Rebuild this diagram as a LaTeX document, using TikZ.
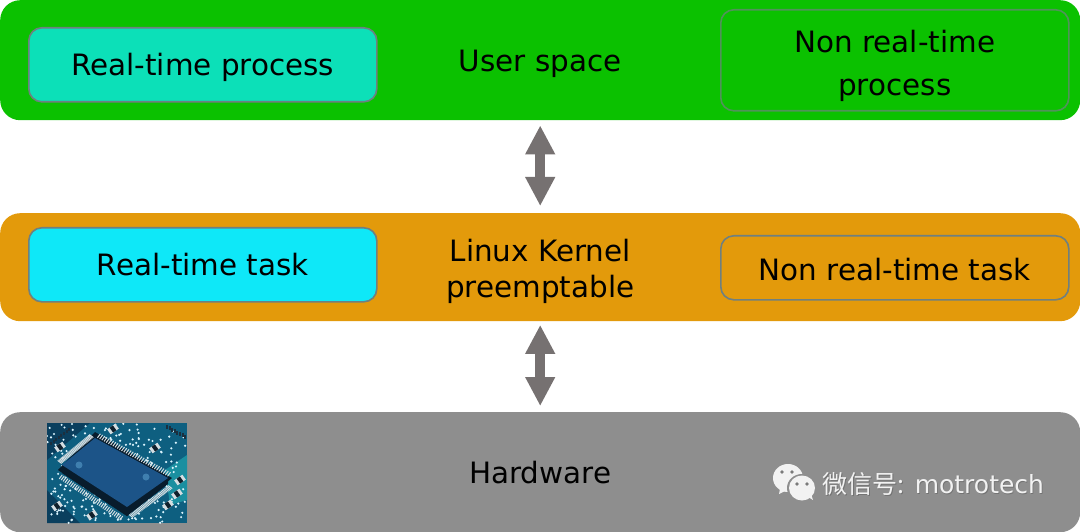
\documentclass[tikz,border=0pt]{standalone}
\usepackage{fontspec}
\setmainfont{DejaVu Sans}
\newfontfamily\cjkfont{Noto Sans CJK SC}
\usetikzlibrary{arrows.meta,calc}
\definecolor{layergreen}{HTML}{0BC100}
\definecolor{layerorange}{HTML}{E39A0B}
\definecolor{layergray}{HTML}{8E8E8E}
\definecolor{boxteal}{HTML}{0CE0B8}
\definecolor{boxcyan}{HTML}{0EE8F8}
\definecolor{boxline}{HTML}{6F8080}
\definecolor{arrowgray}{HTML}{767171}
\definecolor{pcbteal}{HTML}{0E5F80}
\definecolor{pcbdark}{HTML}{0A3F5E}
\definecolor{pcblight}{HTML}{1A8FA0}
\definecolor{chiptop}{HTML}{1C5488}
\definecolor{chipside}{HTML}{081C2C}
\definecolor{chiphole}{HTML}{3F7FAF}
\definecolor{pinc}{HTML}{D5DEE2}
\definecolor{compdark}{HTML}{10202C}
\definecolor{conn}{HTML}{1B2F3F}
\definecolor{wmwhite}{HTML}{F2F2F2}
\definecolor{wmeye}{HTML}{7A7A7A}
\tikzset{
  layer/.style={draw=none,minimum width=1080pt,rounded corners=20pt,inner sep=0pt,anchor=north west},
  procbox/.style={draw=boxline,line width=1.6pt,minimum width=348pt,rounded corners=13pt,inner sep=0pt,anchor=north west},
  dblarrow/.style={draw=arrowgray,line width=9.5pt,{Triangle[length=29pt,width=28pt,fill=arrowgray]}-{Triangle[length=29pt,width=28pt,fill=arrowgray]}},
  lbl/.style={inner sep=0pt,align=center,font=\fontsize{29.4}{36}\selectfont},
  lblwide/.style={lbl,font=\fontsize{29.4}{43}\selectfont},
  wm/.style={inner sep=0pt,anchor=west,font=\fontsize{25}{30}\selectfont},
}
\begin{document}
\begin{tikzpicture}[x=1pt,y=-1pt]
\useasboundingbox (0,0) rectangle (1080,532);
\fill[white] (0,0) rectangle (1080,532);
% layers
\node[layer,fill=layergreen,minimum height=120pt] (user) at (0,0) {};
\node[layer,fill=layerorange,minimum height=108pt] (kernel) at (0,213) {};
\node[layer,fill=layergray,minimum height=120pt] (hw) at (0,412) {};
\node[lbl] (userlbl) at ($(user.center)+(0,3.5)$) {User space};
\node[lbl] (kernellbl) at ($(kernel.center)+(0,4.5)$) {Linux Kernel\\preemptable};
\node[lbl] (hwlbl) at ($(hw.center)+(0,0.5)$) {Hardware};
% boxes
\node[procbox,fill=boxteal,minimum height=74pt] (rtp) at (28,27) {};
\node[procbox,minimum height=101pt,draw=boxline!70!layergreen] (nrtp) at (720,9) {};
\node[procbox,fill=boxcyan,minimum height=74pt] (rtt) at (28,227) {};
\node[procbox,minimum height=64pt] (nrtt) at (720,235) {};
\node[lbl] (rtplbl) at ($(rtp.center)+(0,3)$) {Real-time process};
\node[lblwide] (nrtplbl) at ($(nrtp.center)+(0,5.5)$) {Non real-time\\process};
\node[lbl] (rttlbl) at ($(rtt.center)+(0,0)$) {Real-time task};
\node[lbl] (nrttlbl) at ($(nrtt.center)+(0,2)$) {Non real-time task};
% arrows
\draw[dblarrow,shorten <=5pt,shorten >=7pt] (user.south) -- (kernel.north);
\draw[dblarrow,shorten <=3.5pt,shorten >=6pt] (kernel.south) -- (hw.north);
% chip picture
\begin{scope}
\clip (47,423) rectangle (187,523);
\fill[pcbteal] (47,423) rectangle (187,523);
\fill[pcbdark] (47,423) -- (90,423) -- (47,460) -- cycle;
\fill[pcbdark] (47,490) -- (80,523) -- (47,523) -- cycle;
\fill[pcblight] (165,470) -- (187,455) -- (187,500) -- (170,505) -- cycle;
\pgfmathsetseed{7}
\foreach \i in {1,...,220}{
  \pgfmathsetmacro{\dx}{47+140*rnd}
  \pgfmathsetmacro{\dy}{423+100*rnd}
  \fill[white!85!cyan] (\dx,\dy) circle (1.2pt);
}
\foreach \px/\py in {60/447,113/429,155/448,57/506,92/515,180/480,168/505,177/494}{
  \fill[pinc,rotate around={35:(\px,\py)}] (\px-5,\py-3) rectangle (\px+5,\py+3);
  \fill[compdark,rotate around={35:(\px,\py)}] (\px-2,\py-3) rectangle (\px+2,\py+3);
}
\foreach \i in {0,...,7}{
  \fill[conn] (166+\i*2.6,425+\i*1.4) rectangle ++(2,4);
  \fill[conn] (50+\i*2.6,442-\i*2) rectangle ++(2,3);
}
% pins
\fill[chipside] (95,432) -- (172,478) -- (127,516) -- (58,470) -- cycle;
\foreach \t in {0.02,0.05,...,1}{
  \draw[pinc,line width=1pt] ($(95,438)!\t!(62,465)+(-1,-1)$) -- ++(-4,-3);
  \draw[pinc,line width=1pt] ($(95,438)!\t!(168,478)+(1,-1)$) -- ++(3,-4);
  \draw[pinc,line width=1pt] ($(62,473)!\t!(125,516)+(-1,1)$) -- ++(-3,4);
  \draw[pinc,line width=1pt] ($(127,514)!\t!(168,484)+(1,1)$) -- ++(4,3);
}
\fill[chipside] (62,465) -- (127,507) -- (168,478) -- (168,484) -- (127,516) -- (62,473) -- cycle;
\fill[chiptop] (95,438) -- (168,478) -- (127,507) -- (62,465) -- cycle;
\fill[chiphole] (79,465) circle (3.5pt);
\fill[chiphole] (146,477) circle (3.5pt);
\end{scope}
% watermark
\fill[wmwhite] (788,478) ellipse (15pt and 14pt);
\fill[wmwhite] (780,489) -- (779,494) -- (785,491) -- cycle;
\fill[layergray] (802,488) ellipse (15pt and 14pt);
\fill[wmwhite] (802,488) ellipse (13pt and 12.5pt);
\fill[wmwhite] (808,497) -- (813,500) -- (811,494) -- cycle;
\foreach \ex/\ey in {782/472,792/472,797/484,807/484}{\fill[wmeye] (\ex,\ey) circle (1.8pt);}
\node[wm,text=black!55] (wms) at (822.8,484.8) {{\cjkfont 微信号:} motrotech};
\node[wm,text=wmwhite] (wmt) at (822,484) {{\cjkfont 微信号:} motrotech};
\end{tikzpicture}
\end{document}
